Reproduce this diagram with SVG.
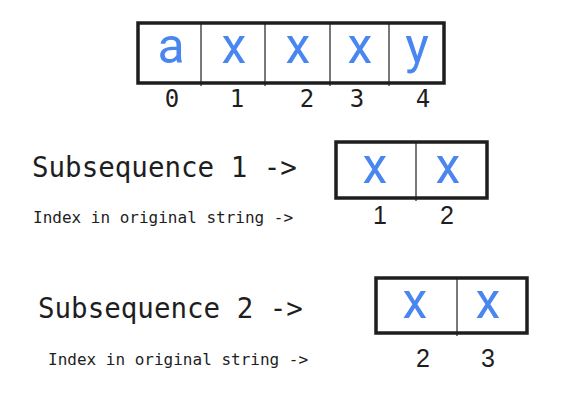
<svg xmlns="http://www.w3.org/2000/svg" width="579" height="420" viewBox="0 0 579 420">
<style>
.box{fill:#fff;stroke:#1e1e1e;stroke-width:3.5}
.div{stroke:#1e1e1e;stroke-width:1.2}
.ch{font-family:Roboto,"Liberation Sans",Arial,sans-serif;font-size:50px;fill:#4a86f0;text-anchor:middle}
.idx{font-family:"DejaVu Sans Mono","Liberation Mono",monospace;font-size:24px;fill:#1e1e1e;text-anchor:middle}
.idx2{font-family:"Liberation Sans",Arial,sans-serif;font-size:25px;fill:#1e1e1e;text-anchor:middle}
.lbl{font-family:"DejaVu Sans Mono","Liberation Mono",monospace;font-size:27.5px;fill:#1e1e1e}
.sm{font-family:"DejaVu Sans Mono","Liberation Mono",monospace;font-size:16px;fill:#1e1e1e}
</style>
<rect width="579" height="420" fill="#fff"/>
<g id="string">
<rect class="box" x="138" y="23" width="306" height="60"/>
<line class="div" x1="201" y1="23" x2="201" y2="86"/>
<line class="div" x1="265" y1="23" x2="265" y2="86"/>
<line class="div" x1="330" y1="23" x2="330" y2="86"/>
<line class="div" x1="389" y1="23" x2="389" y2="86"/>
<text class="ch" x="171" y="63">a</text>
<text class="ch" x="234" y="63">x</text>
<text class="ch" x="298" y="63">x</text>
<text class="ch" x="360" y="63">x</text>
<text class="ch" x="417" y="63">y</text>
<text class="idx" x="172" y="107">0</text>
<text class="idx" x="237" y="107">1</text>
<text class="idx" x="307" y="107">2</text>
<text class="idx" x="357" y="107">3</text>
<text class="idx" x="423" y="107">4</text>
</g>
<g id="sub1">
<text class="lbl" x="32" y="177">Subsequence 1 -&gt;</text>
<text class="sm" x="33" y="223">Index in original string -&gt;</text>
<rect class="box" x="336" y="142" width="151" height="56"/>
<line class="div" x1="416" y1="142" x2="416" y2="201"/>
<text class="ch" x="375" y="183">x</text>
<text class="ch" x="448" y="183">x</text>
<text class="idx2" x="380" y="224">1</text>
<text class="idx2" x="447" y="224">2</text>
</g>
<g id="sub2">
<text class="lbl" x="38" y="318">Subsequence 2 -&gt;</text>
<text class="sm" x="48" y="365">Index in original string -&gt;</text>
<rect class="box" x="376" y="278" width="151" height="55"/>
<line class="div" x1="457" y1="278" x2="457" y2="336"/>
<text class="ch" x="415" y="318">x</text>
<text class="ch" x="488" y="318">x</text>
<text class="idx2" x="423" y="367">2</text>
<text class="idx2" x="488" y="367">3</text>
</g>
</svg>
